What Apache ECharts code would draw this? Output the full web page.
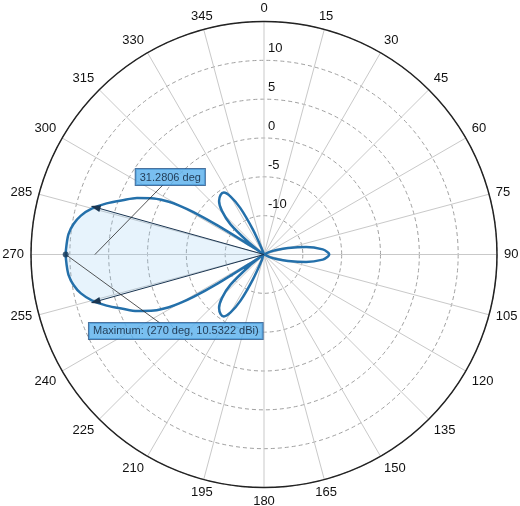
<!DOCTYPE html>
<html>
<head>
<meta charset="utf-8">
<script src="https://cdn.jsdelivr.net/npm/echarts@6/dist/echarts.min.js"></script>
<style>
html,body{margin:0;padding:0;background:#fff;}
#chart{width:520px;height:506px;}
</style>
</head>
<body>
<div id="chart"></div>
<script>
// ---- data ----
const patternAngles = [0, 60, 65, 70, 75, 80, 85, 88, 90, 92, 95, 100, 105, 110, 115, 120,
  199, 201, 204, 207, 210, 213, 216, 220, 224, 228, 232, 235, 236, 237, 238, 239, 240, 241, 243,
  246, 249, 252, 255, 258, 261, 264, 267, 270, 273, 276, 279, 282, 285, 288, 291, 294, 297,
  299, 300, 301, 302, 303, 304, 305, 308, 312, 316, 320, 324, 327, 330, 333, 336, 339, 341, 360];
const patternGain = [-15, -15, -14.2, -13.3, -11.8, -9.5, -7.4, -6.8, -6.6, -6.8, -7.4, -9.5, -11.8, -13.3, -14.2, -15,
  -15, -14.2, -11.5, -8.3, -6.4, -5.5, -5.5, -6.0, -7.2, -9.2, -12.6, -14.3, -15, -13, -8, -4.4, -2.4, -1.0, 0.9,
  2.9, 4.5, 6.3, 7.9, 9.1, 9.85, 10.3, 10.45, 10.53, 10.45, 10.3, 9.85, 9.1, 7.9, 6.3, 4.5, 2.9, 0.9,
  -1.0, -2.4, -4.4, -8, -13, -15, -14.3, -12.6, -9.2, -7.2, -6.0, -5.5, -5.5, -6.4, -8.3, -11.5, -14.2, -15, -15];
const radiusTicks = [-15, -10, -5, 0, 5, 10, 15];
const angleTicks = [0, 15, 30, 45, 60, 75, 90, 105, 120, 135, 150, 165, 180, 195, 210, 225, 240, 255, 270, 285, 300, 315, 330, 345];
const maxAngle = 270;
const maxGain = 10.5322;
const beamwidth = 31.2806;
// annotation anchors (polar: [gain, angle])
const bwLeader = [[6.77, 270], [0.8, 304.45]];
const maxLeader = [[10.5322, 270], [1.05, 236.7]];

// ---- derived ----
const rMin = radiusTicks[0], rMax = radiusTicks[radiusTicks.length - 1];
const halfPower = maxGain - 3;
const bwLo = maxAngle - beamwidth / 2, bwHi = maxAngle + beamwidth / 2;
const pattern = patternAngles.map((a, i) => [patternGain[i], a]);
const fillData = [[rMin, bwLo], [halfPower, bwLo]]
  .concat(pattern.filter(p => p[1] > bwLo && p[1] < bwHi))
  .concat([[halfPower, bwHi], [rMin, bwHi]]);

const arrowColor = '#1b3550';
function arrowSeries(angle) {
  return {
    type: 'line', coordinateSystem: 'polar', silent: true, z: 4,
    symbol: 'none', showSymbol: true,
    lineStyle: { color: arrowColor, width: 1 },
    data: [[rMin, angle], { value: [halfPower, angle], symbol: 'triangle', symbolSize: [7, 10], symbolRotate: 360 - angle, itemStyle: { color: arrowColor } }]
  };
}

const chart = echarts.init(document.getElementById('chart'), null, { renderer: 'canvas' });
const boxLabel = {
  backgroundColor: '#58afec', borderColor: '#1d4f86', borderWidth: 1,
  padding: [3, 4, 2, 4], fontSize: 11, color: '#0b1a2e', fontFamily: 'Liberation Sans, Arial, sans-serif'
};
chart.setOption({
  animation: false,
  backgroundColor: '#ffffff',
  polar: { center: [264, 254.5], radius: 233 },
  angleAxis: {
    type: 'value', min: 0, max: 360, interval: 15, startAngle: 90, clockwise: true,
    axisLine: { lineStyle: { color: '#222', width: 1.5 } },
    axisTick: { show: false },
    axisLabel: {
      margin: 7, fontSize: 13, color: '#111', fontFamily: 'Liberation Sans, Arial, sans-serif',
      formatter: v => angleTicks.indexOf(v) >= 0 ? String(v) : ''
    },
    splitLine: { lineStyle: { color: '#c9c9c9', width: 1 } }
  },
  radiusAxis: {
    type: 'value', min: rMin, max: rMax, interval: 5,
    axisLine: { show: false }, axisTick: { show: false },
    axisLabel: {
      margin: -4, align: 'left', verticalAlign: 'bottom', padding: [0, 0, 5, 0],
      fontSize: 13, color: '#111', fontFamily: 'Liberation Sans, Arial, sans-serif',
      formatter: v => (v === rMin || v === rMax) ? '' : String(v)
    },
    splitLine: { lineStyle: { color: '#a0a0a0', type: [4, 3], width: 1 } }
  },
  series: [
    {
      type: 'line', coordinateSystem: 'polar', silent: true, z: 2,
      symbol: 'none', smooth: false,
      lineStyle: { width: 0, opacity: 0 },
      areaStyle: { color: 'rgba(140,200,240,0.3)', origin: 'start' },
      data: fillData
    },
    arrowSeries(bwLo),
    arrowSeries(bwHi),
    {
      type: 'line', coordinateSystem: 'polar', silent: true, z: 3,
      symbol: 'none', smooth: 0.3,
      lineStyle: { color: '#2470aa', width: 2.5 },
      data: pattern
    },
    {
      type: 'line', coordinateSystem: 'polar', silent: true, z: 5,
      symbol: 'none', lineStyle: { color: '#2a2a2a', width: 0.8 },
      data: bwLeader
    },
    {
      type: 'line', coordinateSystem: 'polar', silent: true, z: 5,
      symbol: 'none', lineStyle: { color: '#2a2a2a', width: 0.8 },
      data: maxLeader
    },
    {
      type: 'scatter', coordinateSystem: 'polar', silent: true, z: 6,
      symbolSize: 6, itemStyle: { color: '#16395a' },
      data: [[maxGain, maxAngle]]
    },
    {
      type: 'scatter', coordinateSystem: 'polar', silent: true, z: 7,
      symbolSize: 0,
      data: [
        { value: bwLeader[1], label: Object.assign({ show: true, position: 'top', distance: 0, offset: [7.5, 0], formatter: beamwidth.toFixed(4) + ' deg' }, boxLabel) },
        { value: maxLeader[1], label: Object.assign({ show: true, position: 'bottom', distance: 0, offset: [16, 0], formatter: 'Maximum: (' + maxAngle + ' deg, ' + maxGain.toFixed(4) + ' dBi)' }, boxLabel) }
      ]
    }
  ]
});
</script>
</body>
</html>
